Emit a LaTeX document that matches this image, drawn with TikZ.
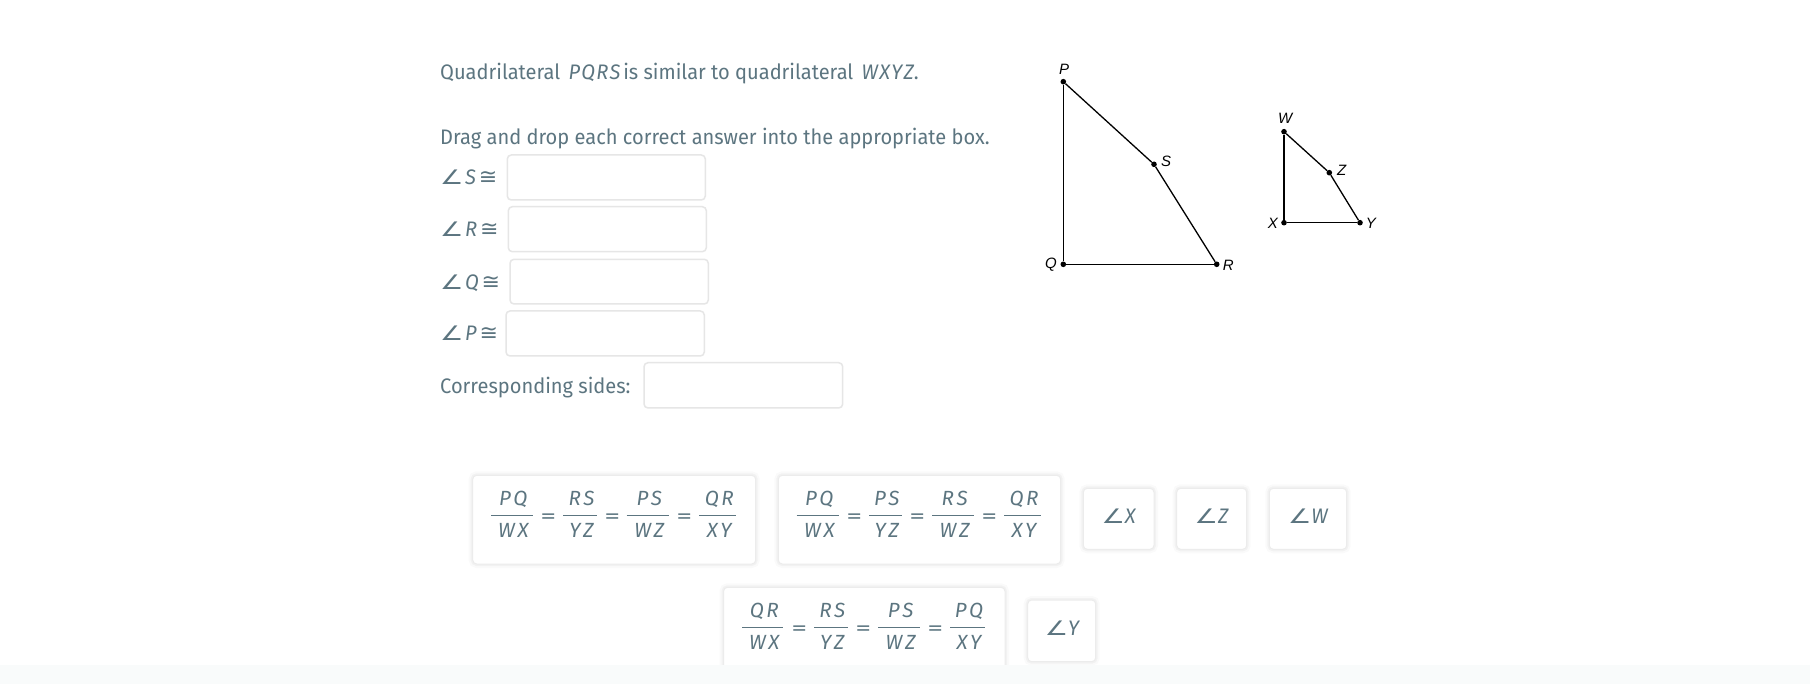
\documentclass[tikz,border=0pt]{standalone}
\usepackage{fontspec}
\setmainfont{Fira Sans}[FakeStretch=0.955]
\newfontfamily\fracfont{Fira Sans}
\newfontfamily\symfont{DejaVu Sans}
\newfontfamily\geofont{Liberation Sans}
\definecolor{txt}{RGB}{92,117,128}
\definecolor{boxline}{RGB}{230,230,230}
\definecolor{cardline}{RGB}{236,236,236}
\definecolor{stripcol}{RGB}{249,251,251}
\newcommand\angsym{{\symfont\fontsize{20}{22}\selectfont\scalebox{1.3}[1]{∠}}}
\newcommand\congsym{{\symfont\fontsize{22}{22}\selectfont ≅}}
\newcommand\boxat[6]{\node[#1, minimum width={#4-#2}, minimum height={#5-#3}] (#6) at ({(#2+#4)/2},{(#3+#5)/2}) {};}
\newcommand\fracat[6]{%
  \draw[fracbar] (#2,#4) -- (#3,#4);
  \node[fractext, anchor=base] (#1n) at ({(#2+#3)/2+1.5},{#4-9.6}) {#5};
  \node[fractext, anchor=base] (#1d) at ({(#2+#3)/2+1.5},{#4+22.4}) {#6};}
\newcommand\eqat[3]{\node[eqtext] (#1) at (#2,{#3+7}) {=};}
\begin{document}
\begin{tikzpicture}[x=1pt,y=-1pt,
  body/.style={text=txt, font=\fontsize{21}{25}\selectfont, inner sep=0pt},
  ansbox/.style={draw=boxline, line width=1.5pt, fill=white, rounded corners=4pt, inner sep=0pt, outer sep=0pt},
  card/.style={draw=cardline, line width=1pt, fill=white, rounded corners=4pt, inner sep=0pt, outer sep=0pt,
    preaction={draw=black, draw opacity=0.02, line width=8pt},
    preaction={draw=black, draw opacity=0.03, line width=4pt}},
  fractext/.style={text=txt, font=\fracfont\fontsize{20.5}{24}\selectfont\itshape, inner sep=0pt},
  eqtext/.style={text=txt, font=\symfont\fontsize{19}{24}\selectfont, inner sep=0pt, anchor=base},
  fracbar/.style={draw=txt, line width=1.3pt},
  edge/.style={draw=black, line width=1.3pt},
  vtx/.style={circle, fill=black, inner sep=0pt, minimum size=5.6pt},
  geolbl/.style={font=\geofont\itshape\fontsize{15}{17}\selectfont, inner sep=0pt, text=black},
]
\useasboundingbox (0,0) rectangle (1810,684);
\fill[white] (0,0) rectangle (1810,684);

% question text
\node[body, anchor=base west] (t1) at (440,79.3) {Quadrilateral \kern3pt\textit{P\kern1.3pt Q\kern1.3pt R\kern1.3pt S}\kern-2.5pt{} is similar to quadrilateral \kern3pt\textit{W\kern1.3pt X\kern1.3pt Y\kern1.3pt Z}.};
\node[body, anchor=base west] (t2) at (440,145) {Drag and drop each correct answer into the appropriate box.};
\node[body, anchor=base west] (lS) at (440,185) {\angsym\kern1.5pt\textit{S}\kern3pt\congsym};
\node[body, anchor=base west] (lR) at (440,236.7) {\angsym\kern1.5pt\textit{R}\kern3pt\congsym};
\node[body, anchor=base west] (lQ) at (440,289.3) {\angsym\kern1.5pt\textit{Q}\kern3pt\congsym};
\node[body, anchor=base west] (lP) at (440,340.7) {\angsym\kern1.5pt\textit{P}\kern3pt\congsym};
\node[body, anchor=base west] (lC) at (440,393.3) {Corresponding sides:};

% answer boxes
\boxat{ansbox}{507.3}{155}{705.3}{200}{bS}
\boxat{ansbox}{508.3}{206.7}{706.3}{251.7}{bR}
\boxat{ansbox}{510}{259.3}{708.3}{304}{bQ}
\boxat{ansbox}{506}{311}{704.3}{356}{bP}
\boxat{ansbox}{644}{362.7}{842.7}{408}{bC}

% figures
\node[vtx] (P) at (1063.3,81.7) {};
\node[vtx] (Q) at (1063.3,264.3) {};
\node[vtx] (R) at (1216.7,264.3) {};
\node[vtx] (S) at (1154,164.3) {};
\draw[edge] (P) -- (Q);
\draw[edge] (Q) -- (R);
\draw[edge] (R) -- (S);
\draw[edge] (S) -- (P);
\node[vtx] (W) at (1284,131.7) {};
\node[vtx] (X) at (1284,222.7) {};
\node[vtx] (Y) at (1360,222.7) {};
\node[vtx] (Z) at (1329.3,172.7) {};
\draw[edge] (W) -- (X);
\draw[edge] (X) -- (Y);
\draw[edge] (Y) -- (Z);
\draw[edge] (Z) -- (W);
\node[geolbl] (nP) at (1064,69.7) {P};
\node[geolbl] (nS) at (1166.2,161.3) {S};
\node[geolbl] (nQ) at (1051,265) {Q};
\node[geolbl] (nR) at (1228.3,265.8) {R};
\node[geolbl] (nW) at (1285.3,118.7) {W};
\node[geolbl] (nZ) at (1341.7,170) {Z};
\node[geolbl] (nX) at (1272.8,223) {X};
\node[geolbl] (nY) at (1370.8,223) {Y};

% answer cards
\boxat{card}{472.7}{475.3}{755.7}{564}{c1}
\boxat{card}{778.3}{475.3}{1060.7}{564}{c2}
\boxat{card}{1083.3}{488.3}{1154}{549.3}{cX}
\boxat{card}{1176.7}{488.3}{1246.7}{549.3}{cZ}
\boxat{card}{1269.3}{488.3}{1346.7}{549.3}{cW}
\boxat{card}{723.5}{587.3}{1005}{695}{c3}
\boxat{card}{1027.7}{600}{1095.7}{661.7}{cY}

\fracat{f11}{491}{532.7}{515.3}{P\kern2.5pt Q}{W\kern2.5pt X}
\eqat{e11}{548.3}{515.3}
\fracat{f12}{563.3}{596.7}{515.3}{R\kern2.5pt S}{Y\kern2.5pt Z}
\eqat{e12}{612.3}{515.3}
\fracat{f13}{626.7}{668.7}{515.3}{P\kern2.5pt S}{W\kern2.5pt Z}
\eqat{e13}{684.3}{515.3}
\fracat{f14}{699.3}{736}{515.3}{Q\kern2.5pt R}{X\kern2.5pt Y}

\fracat{f21}{796.7}{839}{515.3}{P\kern2.5pt Q}{W\kern2.5pt X}
\eqat{e21}{854.3}{515.3}
\fracat{f22}{869}{901.7}{515.3}{P\kern2.5pt S}{Y\kern2.5pt Z}
\eqat{e22}{917.3}{515.3}
\fracat{f23}{932.3}{974}{515.3}{R\kern2.5pt S}{W\kern2.5pt Z}
\eqat{e23}{989.3}{515.3}
\fracat{f24}{1004}{1041}{515.3}{Q\kern2.5pt R}{X\kern2.5pt Y}

\fracat{f31}{742.3}{783.3}{627.3}{Q\kern2.5pt R}{W\kern2.5pt X}
\eqat{e31}{799.3}{627.3}
\fracat{f32}{814}{847.7}{627.3}{R\kern2.5pt S}{Y\kern2.5pt Z}
\eqat{e32}{863.3}{627.3}
\fracat{f33}{878.3}{920}{627.3}{P\kern2.5pt S}{W\kern2.5pt Z}
\eqat{e33}{935.3}{627.3}
\fracat{f34}{950}{985}{627.3}{P\kern2.5pt Q}{X\kern2.5pt Y}

\node[body, anchor=base] (tX) at (1119,523.3) {\angsym\textit{X}};
\node[body, anchor=base] (tZ) at (1211.7,523.3) {\angsym\textit{Z}};
\node[body, anchor=base] (tW) at (1308.3,523.3) {\angsym\textit{W}};
\node[body, anchor=base] (tY) at (1062.5,635) {\angsym\textit{Y}};

% bottom strip
\fill[stripcol] (0,665) rectangle (1810,684);
\end{tikzpicture}
\end{document}
